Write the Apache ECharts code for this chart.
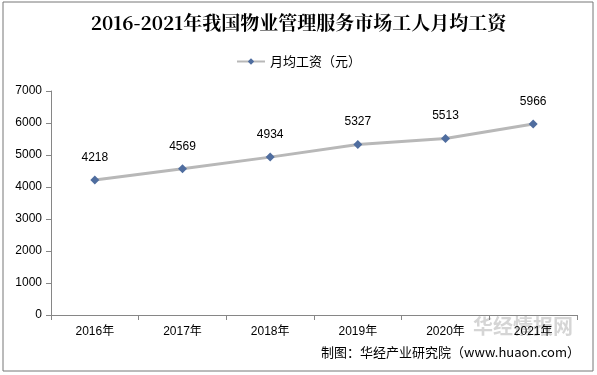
<!DOCTYPE html>
<html>
<head>
<meta charset="utf-8">
<script src="https://cdn.jsdelivr.net/npm/echarts@6/dist/echarts.min.js"></script>
<style>
  html, body { margin: 0; padding: 0; background: #fff; }
  #chart { width: 597px; height: 375px; }
</style>
</head>
<body>
<div id="chart"></div>
<script>
// 年份 & 月均工资
const years = ['2016年', '2017年', '2018年', '2019年', '2020年', '2021年'];
const wages = [4218, 4569, 4934, 5327, 5513, 5966];
const yTicks = [0, 1000, 2000, 3000, 4000, 5000, 6000, 7000];

const chart = echarts.init(document.getElementById('chart'));

const option = {
  backgroundColor: '#fff',
  animation: false,
  title: {
    text: '2016-2021年我国物业管理服务市场工人月均工资',
    left: 'center',
    top: 8,
    textStyle: {
      fontFamily: 'Noto Serif CJK SC, SimSun, serif',
      fontSize: 19,
      fontWeight: 'bold',
      color: '#000'
    }
  },
  legend: {
    data: ['月均工资（元）'],
    top: 50,
    left: 'center',
    itemWidth: 28,
    itemHeight: 8,
    textStyle: {
      fontFamily: 'Noto Sans CJK SC',
      fontSize: 13,
      color: '#000'
    }
  },
  grid: {
    left: 51,
    right: 20,
    top: 91,
    bottom: 60
  },
  xAxis: {
    type: 'category',
    data: years,
    boundaryGap: true,
    axisLine: { show: true, lineStyle: { color: '#868686', width: 1 } },
    axisTick: { show: true, length: 5, lineStyle: { color: '#868686' } },
    axisLabel: {
      color: '#000',
      fontFamily: 'Arial, Liberation Sans, Noto Sans CJK SC',
      fontSize: 12,
      margin: 11
    }
  },
  yAxis: {
    type: 'value',
    min: yTicks[0],
    max: yTicks[yTicks.length - 1],
    interval: 1000,
    axisLine: { show: true, lineStyle: { color: '#868686', width: 1 } },
    axisTick: { show: true, length: 5, lineStyle: { color: '#868686' } },
    splitLine: { show: false },
    axisLabel: {
      color: '#000',
      fontFamily: 'Arial, Liberation Sans',
      fontSize: 12,
      margin: 9,
      formatter: function (v) { return String(v); }
    }
  },
  series: [
    {
      name: '月均工资（元）',
      type: 'line',
      data: wages,
      symbol: 'diamond',
      symbolSize: 9,
      itemStyle: { color: '#4F6D9F' },
      lineStyle: { color: '#B8B8B8', width: 3 },
      label: {
        show: true,
        position: 'top',
        distance: 12,
        color: '#000',
        fontFamily: 'Arial, Liberation Sans',
        fontSize: 12
      }
    }
  ],
  graphic: [
    {
      type: 'rect',
      shape: { x: 3, y: 2, width: 590, height: 369 },
      style: { fill: 'none', stroke: '#777', lineWidth: 1 },
      silent: true
    },
    {
      type: 'text',
      left: 473,
      top: 316,
      style: {
        text: '华经情报网',
        fill: 'rgba(150,150,150,0.4)',
        font: 'bold 20px Noto Sans CJK SC'
      },
      silent: true
    },
    {
      type: 'text',
      right: 17,
      top: 346,
      style: {
        text: '制图：华经产业研究院（www.huaon.com）',
        fill: '#000',
        font: '13px Noto Sans CJK SC'
      }
    }
  ]
};

chart.setOption(option);
</script>
</body>
</html>
